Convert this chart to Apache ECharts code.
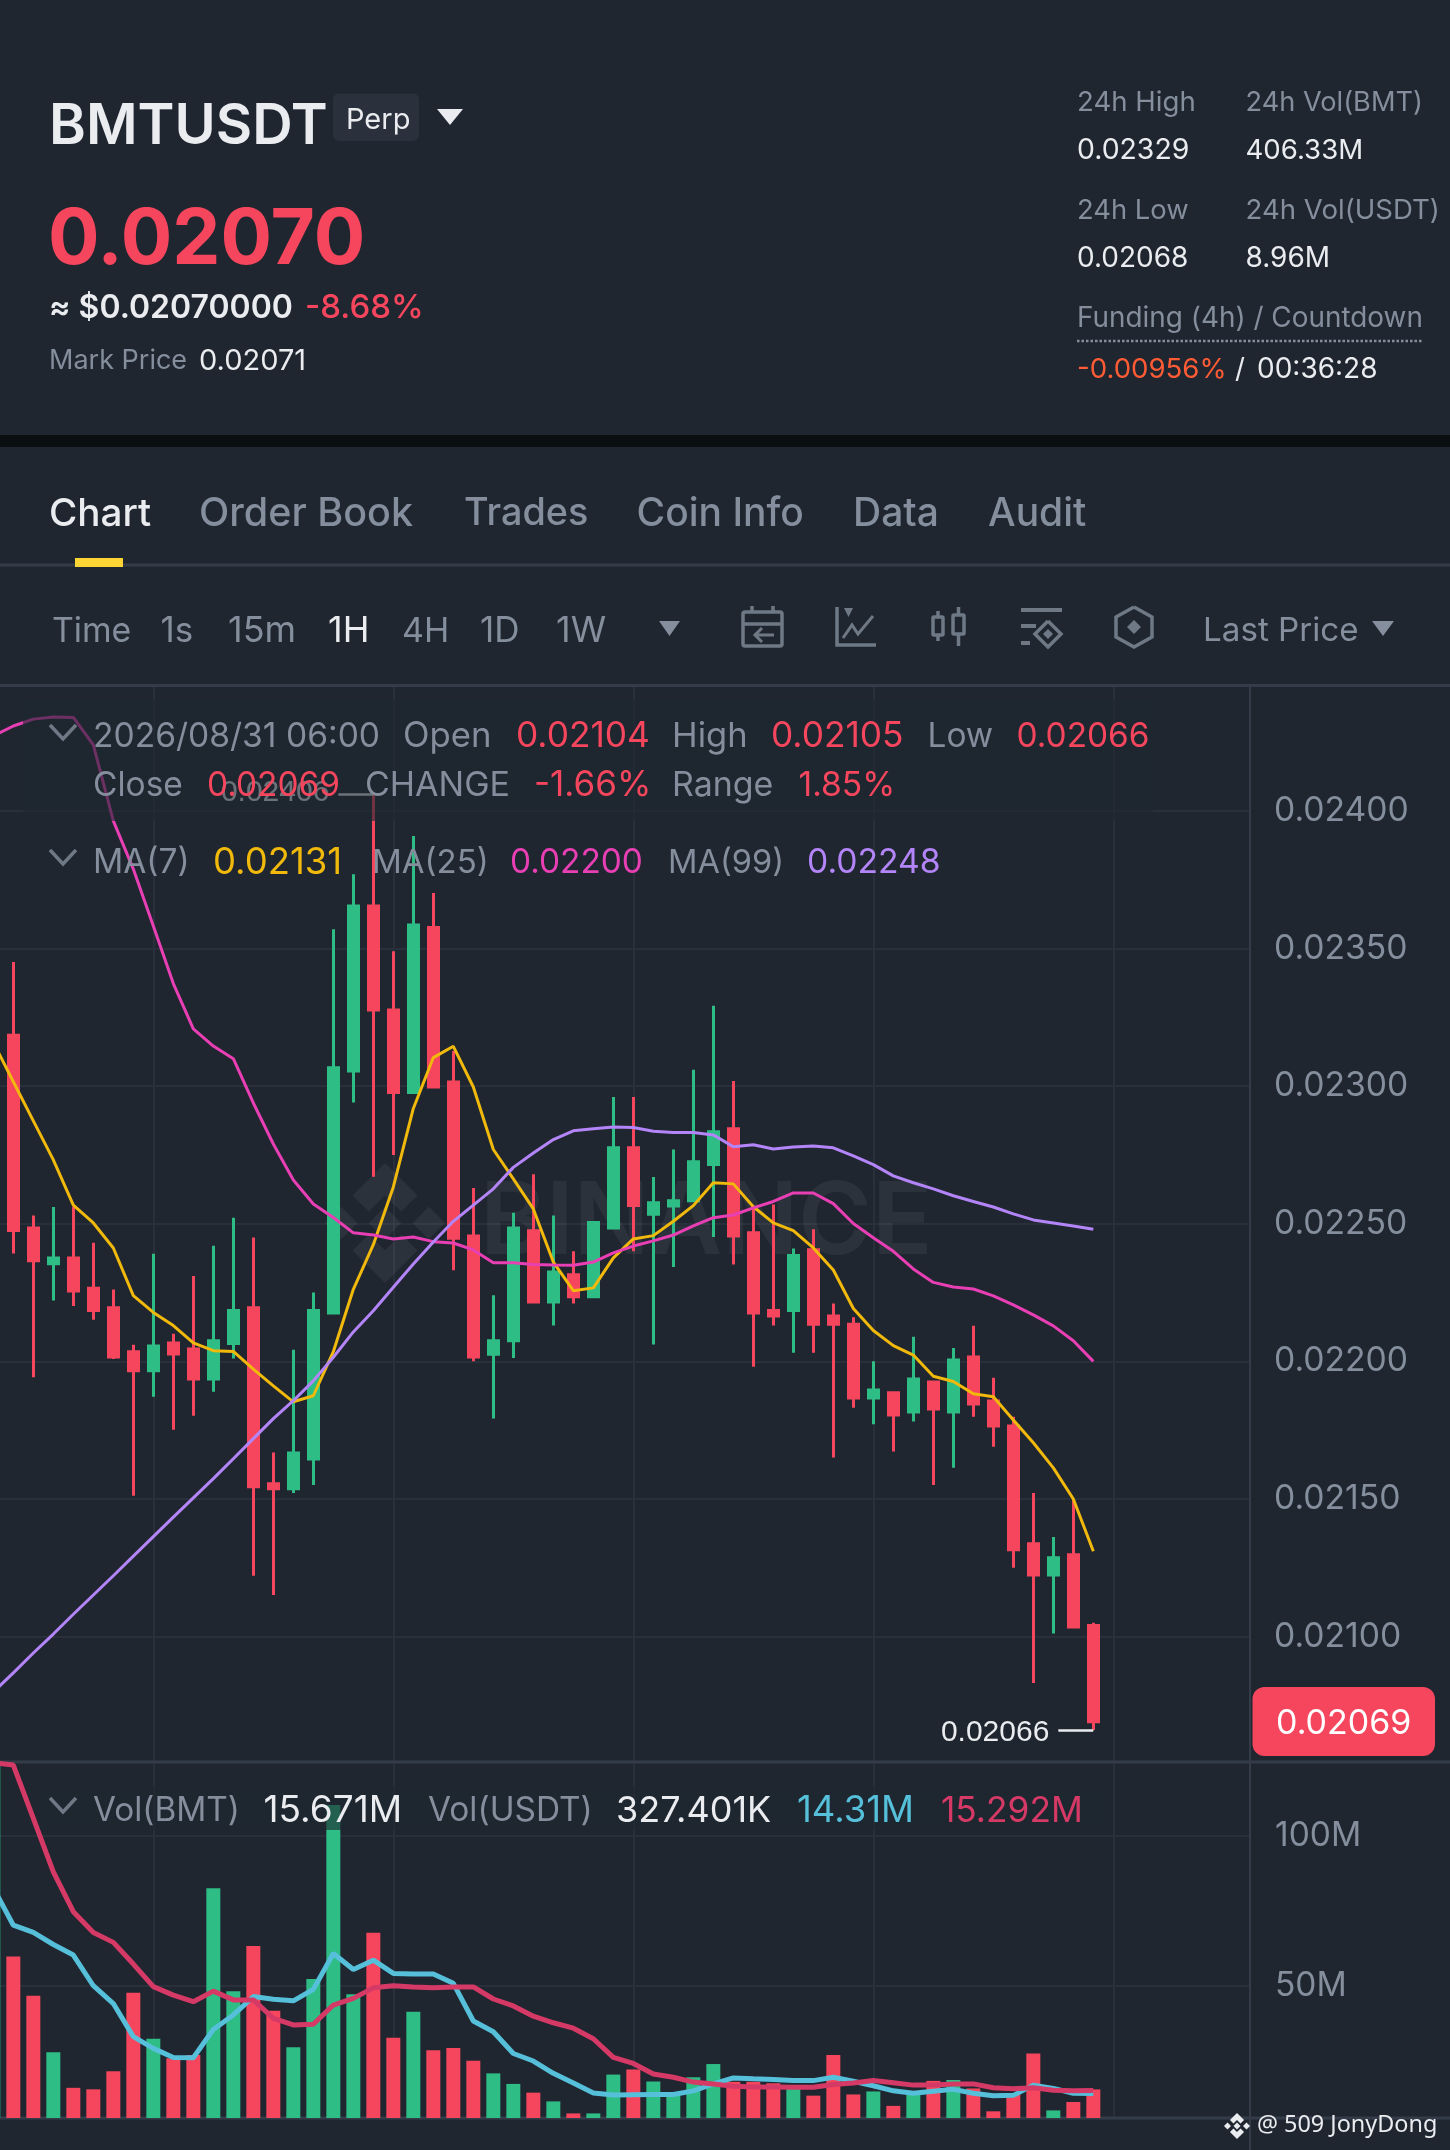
<!DOCTYPE html>
<html><head><meta charset="utf-8"><title>BMTUSDT</title>
<style>html,body{margin:0;padding:0;background:#1f2630}#c{width:1450px;height:2150px}</style>
<script src="https://cdn.jsdelivr.net/npm/echarts@6/dist/echarts.min.js"></script></head>
<body><div id="c"></div>
<script>
const indexes = Array.from({length:56},(_,i)=>i);
const opens = [.022666,.023185,.022485,.022355,.022376,.022266,.022195,.022035,.021966,.022067,.022045,.021936,.022065,.022195,.021555,.021537,.021645,.022176,.023055,.023655,.023277,.022977,.023577,.023015,.022456,.022026,.022075,.022475,.022216,.022315,.022235,.022485,.022776,.022535,.022565,.022584,.022715,.022845,.022467,.022185,.022185,.022406,.022165,.022135,.021867,.021886,.021816,.021925,.021816,.022016,.021856,.021765,.021337,.021224,.021297,.02104];
const closes = [.023175,.022476,.022366,.022376,.022256,.022185,.022016,.021966,.022056,.022027,.021936,.022075,.022185,.021544,.021537,.021667,.022185,.023067,.023655,.023277,.022977,.023586,.022997,.022447,.022016,.022075,.022485,.022216,.022325,.022235,.022505,.022776,.022566,.022576,.022584,.022725,.022834,.022456,.022176,.022165,.022385,.022135,.022135,.021867,.021896,.021805,.021936,.021827,.022005,.021845,.021765,.021315,.021224,.021286,.021035,.02069];
const lows = [.022623,.022392,.021942,.022221,.022201,.022151,.022009,.021512,.021871,.021751,.021802,.02189,.02201,.021221,.021151,.021522,.021551,.022172,.022941,.022671,.02275,.022975,.022995,.022331,.022,.021792,.022012,.02221,.02213,.02221,.022232,.022481,.0224,.022061,.022343,.022583,.022452,.022352,.02198,.02213,.022031,.022031,.021651,.021831,.021771,.021672,.021781,.021551,.021613,.021799,.02169,.02125,.020831,.021011,.021033,.02066];
const highs = [.023204,.023451,.02253,.022561,.022562,.022431,.022261,.02206,.022391,.0221,.02231,.02242,.022522,.02245,.021669,.022042,.02225,.02357,.02377,.02406,.02349,.023909,.023702,.023128,.02263,.02224,.02254,.02268,.02253,.0224,.022509,.022961,.022961,.02267,.02277,.02306,.023292,.023019,.022555,.02257,.02241,.02248,.02221,.02216,.022,.02189,.022089,.021929,.022049,.022129,.02194,.021799,.021522,.021362,.0215,.02105];
const ma7 = [.023159,.023016,.022874,.022732,.022568,.022503,.022412,.022239,.022178,.02213,.022067,.022039,.022036,.021972,.021911,.021853,.021875,.022035,.022262,.022424,.022634,.022919,.023104,.023145,.022997,.02277,.022663,.022554,.022361,.022257,.022267,.022376,.022445,.022457,.022509,.022566,.022649,.022645,.022562,.022503,.022475,.022412,.022332,.022192,.022112,.022057,.022023,.021946,.021927,.021882,.021871,.021787,.021704,.021613,.0215,.02131];
const ma25 = [.024273,.024309,.024334,.024342,.02434,.02424,.023964,.023789,.023582,.023373,.023208,.023146,.0231,.022939,.02279,.022659,.022572,.022523,.022467,.022459,.022445,.022452,.022435,.02243,.022405,.022358,.022358,.022352,.02235,.022349,.022361,.022394,.022419,.022438,.022459,.022492,.022522,.022532,.022558,.022581,.022612,.022612,.022573,.022501,.022449,.0224,.022336,.022287,.02227,.022263,.022238,.022205,.022169,.022129,.022075,.022];
const ma99 = [.020798,.020868,.02094,.021009,.021081,.021151,.021221,.021292,.021363,.021434,.021504,.021574,.021646,.021719,.021792,.021857,.021929,.022015,.022107,.022184,.022269,.022354,.022434,.022509,.022568,.022627,.022705,.022757,.022806,.022838,.022845,.022852,.02285,.022836,.022832,.022832,.022823,.02278,.022787,.022772,.022779,.022783,.022776,.022747,.022715,.022674,.022649,.022627,.022602,.022581,.022561,.022536,.022514,.022503,.022492,.02248];
const volumes = [128,59.8,46.8,28,16.2,15.7,21.7,47.8,32.5,26,27.1,82.5,48.3,63.3,41.8,29.7,52.3,110.1,47.3,67.7,32.8,41.5,28.7,29.4,25.2,21,17.5,14.6,11.7,7.7,7.7,20.6,22.3,18.3,14.4,19.7,24.1,18.2,18.2,17.7,16,13.6,27.1,14,15,10.2,14.9,18.5,18.8,16,8.4,14.4,27.6,8.7,11.5,15.671];
const volMa5 = [82.6,70.2,67.8,63.8,60.3,50.1,44.2,33.2,29.3,26.3,26.2,35.6,40.4,46.5,45.6,45.1,48.9,60.8,55.5,58.6,54.2,54,54,50.9,38.4,34.8,27.6,25.1,21,17.8,14.5,13.8,13.9,14,14,15.2,17.5,19.5,19.2,19,18.6,18.6,19.7,18.4,16.9,15.2,14.4,15.1,15.7,14.4,13.6,13.7,17.1,16,14.4,14.31];
const volMa10 = [124.1,123.4,105.7,87.9,74.7,67.8,64.5,57.3,49.8,47,44.8,48.3,45.4,45.4,39.3,37.1,37.3,43.7,45.9,49.4,50.1,49.7,49.4,49.7,49.7,45.7,43.4,40,37.8,36,32.5,26.3,24.3,20.8,19.7,18.1,17.5,16.7,16.5,16.5,16.4,16.4,17.3,17.8,18.6,17.9,17.1,17.1,17.5,17.5,16.2,15.9,16.2,15.4,15.2,15.292];
const priceTicks = [.021,.0215,.022,.0225,.023,.0235,.024];
const volTicks = [50,100];
const timeTicks = [8,20,32,44,56];

const UP='#2EBD85',DOWN='#F6465D',GRID='#2A303B',EDGE='#343C49',GRAY='#848E9C',WHITE='#EAECEF',FONT='Inter';
const g=[];
function T(x,y,s,c,size,w,extra){g.push({type:'text',z:60,x:x,y:y,silent:true,style:Object.assign({text:s,fill:c,font:(w||400)+' '+size+'px '+FONT,textVerticalAlign:'middle',textAlign:'left'},extra||{})});}
function L(pts,c,w,z,fill){g.push({type:'polyline',z:z||60,silent:true,shape:{points:pts},style:{stroke:c,lineWidth:w,fill:fill||null,lineJoin:'miter'}});}
function R(x,y,w,h,c,r,z,stroke){g.push({type:'rect',z:z||60,silent:true,shape:{x:x,y:y,width:w,height:h,r:r||0},style:stroke?{stroke:c,lineWidth:stroke,fill:null}:{fill:c}});}
function P(pts,c,z){g.push({type:'polygon',z:z||60,silent:true,shape:{points:pts},style:{fill:c}});}

// structure
R(0,435,1450,12,'#0B0E11',0,1);
R(0,563.5,1450,3,EDGE,0,1);
R(75,558,48,9,'#FCD535',0,2);
R(0,684,1450,3,EDGE,0,1);
R(0,1760.5,1450,3,EDGE,0,3);
R(0,2116.5,1450,3,EDGE,0,3);
R(1249,686,2,1464,EDGE,0,3);

// header
T(49,127,'BMTUSDT',WHITE,56,600);
R(333,93.5,86,47.5,'#2B313C',6,2);
T(346,120,'Perp',WHITE,29,400);
P([[437,109],[463,109],[450,125]],WHITE);
T(48,241,'0.02070',DOWN,76.5,700);
T(49,308,'≈ $0.02070000',WHITE,32,600);
T(305,308,'-8.68%',DOWN,33,500);
T(49,361,'Mark Price',GRAY,27);
T(199,361,'0.02071',WHITE,29);
T(1077,103,'24h High',GRAY,27.6);
T(1245.5,103,'24h Vol(BMT)',GRAY,27.2);
T(1077,150.5,'0.02329',WHITE,28.4);
T(1245.5,150.5,'406.33M',WHITE,27.6);
T(1077,211,'24h Low',GRAY,27.4);
T(1245.5,211,'24h Vol(USDT)',GRAY,27.6);
T(1077,258.5,'0.02068',WHITE,28);
T(1245.5,258.5,'8.96M',WHITE,28);
T(1077,319,'Funding (4h) / Countdown',GRAY,27.9);
g.push({type:'line',z:60,silent:true,shape:{x1:1077,y1:341,x2:1422,y2:341},style:{stroke:GRAY,lineWidth:2.5,lineDash:[2.5,2]}});
T(1077,369.5,'-0.00956%',"#FF5C35",27.6);
T(1235,369.5,'/',WHITE,27.6);
T(1257,369.5,'00:36:28',WHITE,28);

// tabs
[['Chart',49,WHITE,38.6],['Order Book',199,GRAY,39.5],['Trades',464,GRAY,37.8],['Coin Info',636.6,GRAY,39],['Data',853,GRAY,39],['Audit',988,GRAY,39]].forEach(a=>T(a[1],514,a[0],a[2],a[3],500));
// toolbar
[['Time',52,GRAY,33.8],['1s',160.5,GRAY,35],['15m',228,GRAY,36],['1H',328,WHITE,36],['4H',402,GRAY,34],['1D',480,GRAY,35],['1W',556,GRAY,36],['Last Price',1203,GRAY,33.2]].forEach(a=>T(a[1],631.5,a[0],a[2],a[3],400));
P([[659,621],[680,621],[669.5,636]],GRAY);
P([[1372,621],[1394,621],[1383,636]],GRAY);
// icons
const IC='#6F7986';
R(743,612,39,34,IC,2,60,3.5);L([[743,624],[782,624]],IC,3.5);L([[752,606],[752,613]],IC,3.5);L([[773,606],[773,613]],IC,3.5);
L([[774,635],[755,635]],IC,3);L([[762,628],[755,635],[762,642]],IC,3);
L([[837,607],[837,645],[876,645]],IC,3.5);L([[843,638],[852,625],[858,634],[873,616]],IC,3);P([[844,608],[853,608],[848.5,617]],IC);
R(933,617,10,18,IC,1,60,3.5);L([[938,611],[938,617]],IC,3.5);L([[938,635],[938,641]],IC,3.5);
R(953,615,11,19,IC,1,60,3.5);L([[958.5,607],[958.5,615]],IC,3.5);L([[958.5,634],[958.5,646]],IC,3.5);
L([[1021,610],[1062,610]],IC,4);L([[1021,626],[1036,626]],IC,4);L([[1021,643],[1030,643]],IC,4);
L([[1048,621],[1061,634],[1048,647],[1035,634],[1048,621]],IC,3.5);P([[1048,629],[1053,634],[1048,639],[1043,634]],IC);
L([[1134,607],[1152,617],[1152,637],[1134,647],[1116,637],[1116,617],[1134,607]],IC,3.5);P([[1134,620],[1141,627],[1134,634],[1127,627]],IC);

// legend panels (translucent, dim the marks behind them)
R(23,700,1130,121,'rgba(31,38,48,0.62)',0,50);
R(40,1786,1070,44,'rgba(31,38,48,0.62)',0,50);
const CH='#6F7986';
L([[50,725],[63,739],[76,725]],CH,3.5);
L([[50,850],[63,864],[76,850]],CH,3.5);
L([[50,1798],[63,1812],[76,1798]],CH,3.5);
const Y1=736.5,Y2=785.5,Y3=863,Y4=1811;
T(93,Y1,'2026/08/31 06:00',GRAY,33.6);T(403,Y1,'Open',GRAY,34.7);T(516,Y1,'0.02104',DOWN,35.3);T(672,Y1,'High',GRAY,34.5);T(771,Y1,'0.02105',DOWN,35.3);T(927.5,Y1,'Low',GRAY,33.4);T(1016.6,Y1,'0.02066',DOWN,33.4);
T(93,Y2,'Close',GRAY,33.5);T(207,Y2,'0.02069',DOWN,33.4);T(365,Y2,'CHANGE',GRAY,34);T(534,Y2,'-1.66%',DOWN,35);T(672,Y2,'Range',GRAY,33.9);T(798.5,Y2,'1.85%',DOWN,33.6);
T(93,Y3,'MA(7)',GRAY,33.5);T(213,Y3,'0.02131','#F0B90B',36.5);T(372,Y3,'MA(25)',GRAY,33);T(510,Y3,'0.02200','#E93FB4',33.4);T(668,Y3,'MA(99)',GRAY,32.6);T(807,Y3,'0.02248','#B385F8',33.7);
T(93,Y4,'Vol(BMT)',GRAY,33.3);T(263.5,Y4,'15.671M',WHITE,37);T(428,Y4,'Vol(USDT)',GRAY,33.4);T(616,Y4,'327.401K',WHITE,36);T(797,Y4,'14.31M','#56BFD9',36.5);T(941,Y4,'15.292M','#D53A66',35.3);

// last price tag
R(1252.5,1687,182.5,69,DOWN,12,40);
T(1343.7,1724,'0.02069','#FFFFFF',34,400,{textAlign:'center'});

// watermark
const WM='rgba(255,255,255,0.06)';
T(480,1224,'BINANCE',WM,100,600,{});g[g.length-1].z=1;
(function(){const cx=385,cy=1223,r=60,f=p=>p.map(q=>[cx+q[0]*r,cy+q[1]*r]);
P(f([[0,-.27],[.27,0],[0,.27],[-.27,0]]),WM,1);
P(f([[-.73,-.27],[-.46,0],[-.73,.27],[-1,0]]),WM,1);
P(f([[.73,-.27],[1,0],[.73,.27],[.46,0]]),WM,1);
P(f([[0,-1],[.54,-.46],[.27,-.19],[0,-.46],[-.27,-.19],[-.54,-.46]]),WM,1);
P(f([[0,1],[.54,.46],[.27,.19],[0,.46],[-.27,.19],[-.54,.46]]),WM,1);})();

// credit
(function(){const cx=1237,cy=2126,r=13,W='#EAECEF',f=p=>p.map(q=>[cx+q[0]*r,cy+q[1]*r]);
P(f([[0,-.27],[.27,0],[0,.27],[-.27,0]]),W);P(f([[-.73,-.27],[-.46,0],[-.73,.27],[-1,0]]),W);P(f([[.73,-.27],[1,0],[.73,.27],[.46,0]]),W);
P(f([[0,-1],[.54,-.46],[.27,-.19],[0,-.46],[-.27,-.19],[-.54,-.46]]),W);P(f([[0,1],[.54,.46],[.27,.19],[0,.46],[-.27,.19],[-.54,.46]]),W);})();
g.push({type:'text',z:60,x:1257,y:2125,silent:true,style:{text:'@ 509 JonyDong',fill:'#EAECEF',font:'400 23.4px "Noto Sans"',textVerticalAlign:'middle',textAlign:'left'}});

const hi=Math.max(...highs), lo=Math.min(...lows), hiI=highs.indexOf(hi), loI=lows.indexOf(lo);
const xAxisBase={type:'value',min:0.3335,max:62.8335,axisLine:{show:false},axisTick:{show:false,customValues:timeTicks},axisLabel:{show:false,customValues:timeTicks},splitLine:{show:true,lineStyle:{color:GRID,width:2}}};
const yAxisBase={type:'value',position:'right',axisLine:{show:false},axisTick:{show:false},splitLine:{show:true,lineStyle:{color:GRID,width:2}}};
const lineSeries=(name,arr,color,w,ax)=>({name:name,type:'line',xAxisIndex:ax,yAxisIndex:ax,data:indexes.map(i=>[i,arr[i]]),symbol:'none',smooth:false,z:5,lineStyle:{color:color,width:w},itemStyle:{color:color}});

const chart=echarts.init(document.getElementById('c'),null,{width:1450,height:2150});
chart.setOption({
 animation:false,backgroundColor:'#1f2630',
 textStyle:{fontFamily:FONT},
 grid:[{left:0,width:1250,top:685,height:1077},{left:0,width:1250,top:1762,height:356}],
 xAxis:[Object.assign({gridIndex:0},xAxisBase),Object.assign({gridIndex:1},xAxisBase)],
 yAxis:[
  Object.assign({gridIndex:0,min:0.020544,max:0.024458,axisLabel:{customValues:priceTicks,color:GRAY,fontSize:33.7,fontFamily:FONT,margin:24,align:'left',padding:[0,0,10,0],formatter:v=>v.toFixed(5)}},yAxisBase,{axisTick:{show:false,customValues:priceTicks}}),
  Object.assign({gridIndex:1,min:6.18,max:124.4,axisLabel:{customValues:volTicks,color:GRAY,fontSize:33.5,fontFamily:FONT,margin:25,align:'left',padding:[0,0,6,0],formatter:v=>v+'M'}},yAxisBase,{axisTick:{show:false,customValues:volTicks}})
 ],
 graphic:{elements:g},
 series:[
  {name:'BMTUSDT',type:'candlestick',xAxisIndex:0,yAxisIndex:0,z:3,barWidth:11,
   encode:{x:0,y:[1,2,3,4]},
   data:indexes.map(i=>[i,opens[i],closes[i],lows[i],highs[i]]),
   itemStyle:{color:UP,color0:DOWN,borderColor:UP,borderColor0:DOWN,borderWidth:3},
   markPoint:{silent:true,symbol:'circle',symbolSize:0,animation:false,
    label:{show:true,position:'left',distance:0,color:WHITE,fontFamily:'Liberation Sans',fontSize:30},
    data:[{coord:[hiI-1.75,hi],value:hi.toFixed(5),label:{formatter:hi.toFixed(5),distance:9,offset:[0,-2]}},{coord:[loI-1.75,lo],value:lo.toFixed(5),label:{formatter:lo.toFixed(5),distance:9,offset:[0,3]}}]},
   markLine:{silent:true,symbol:'none',animation:false,label:{show:false},lineStyle:{color:WHITE,width:2.5,type:'solid'},
    data:[[{coord:[hiI-1.75,hi]},{coord:[hiI,hi]}],[{coord:[loI-1.75,lo]},{coord:[loI,lo]}]]}},
  lineSeries('MA(7)',ma7,'#F0B90B',3,0),
  lineSeries('MA(25)',ma25,'#E93FB4',3,0),
  lineSeries('MA(99)',ma99,'#B385F8',3,0),
  {name:'Vol',type:'bar',xAxisIndex:1,yAxisIndex:1,barWidth:14,z:3,data:indexes.map(i=>({value:[i,volumes[i]],itemStyle:{color:closes[i]>=opens[i]?UP:DOWN}}))},
  lineSeries('MA5',volMa5,'#56BFD9',5,1),
  lineSeries('MA10',volMa10,'#D53A66',5,1)
 ]
});
</script></body></html>
